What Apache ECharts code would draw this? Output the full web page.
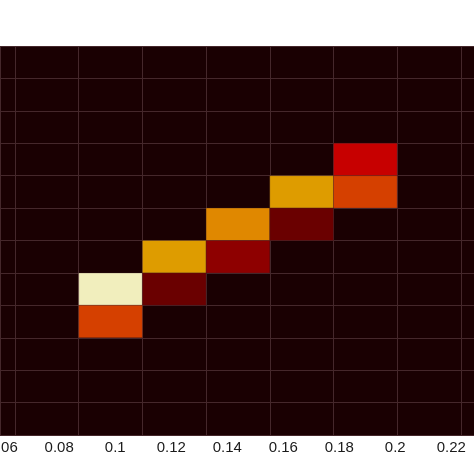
<!DOCTYPE html>
<html>
<head>
<meta charset="utf-8">
<script src="https://cdn.jsdelivr.net/npm/echarts@6/dist/echarts.min.js"></script>
<style>
  html, body { margin: 0; padding: 0; background: #fff; }
  #myChart { width: 474px; height: 474px; }
</style>
</head>
<body>
<div id="myChart"></div>
<script>
// rows of the heat map, listed top to bottom; columns are bin numbers 0..8
var rowNames = ["r0", "r1", "r2", "r3", "r4", "r5", "r6", "r7", "r8", "r9", "r10", "r11"];
var cellValues = [
  [0, 0, 0, 0, 0, 0, 0, 0, 0],
  [0, 0, 0, 0, 0, 0, 0, 0, 0],
  [0, 0, 0, 0, 0, 0, 0, 0, 0],
  [0, 0, 0, 0, 0, 0, 3, 0, 0],
  [0, 0, 0, 0, 0, 6, 4, 0, 0],
  [0, 0, 0, 0, 5, 1, 0, 0, 0],
  [0, 0, 0, 6, 2, 0, 0, 0, 0],
  [0, 0, 7, 1, 0, 0, 0, 0, 0],
  [0, 0, 4, 0, 0, 0, 0, 0, 0],
  [0, 0, 0, 0, 0, 0, 0, 0, 0],
  [0, 0, 0, 0, 0, 0, 0, 0, 0],
  [0, 0, 0, 0, 0, 0, 0, 0, 0]
];
// visible part of the bin axis and of the labelled x axis
var binMin = 0.7645;
var binMax = 8.2057;
var xMin = 0.058863;
var xMax = 0.228107;
var xStep = 0.02;

var heatColors = ["#1A0002", "#6A0000", "#8E0000", "#C70000", "#D54000", "#E08800", "#DE9C00", "#F1EEBD"];

var cellData = [];
cellValues.forEach(function (row, r) {
  row.forEach(function (v, c) {
    if (v > 0) {
      cellData.push([c, rowNames[r], v]);
    }
  });
});

function renderCell(params, api) {
  var p = api.coord([api.value(0), api.value(1)]);
  var size = api.size([1, 1]);
  return {
    type: "rect",
    shape: { x: p[0], y: p[1] - size[1] / 2, width: size[0], height: size[1] },
    style: { fill: api.visual("color"), stroke: "rgba(67,38,42,0.6)", lineWidth: 0.5 }
  };
}

var myChart = echarts.init(document.getElementById("myChart"));
myChart.setOption({
  animation: false,
  grid: {
    left: 0, right: 0, top: 46, bottom: 39,
    outerBoundsMode: "none",
    containLabel: false,
    show: true, backgroundColor: "#1A0002", borderWidth: 0
  },
  xAxis: [
    {
      type: "value",
      min: binMin,
      max: binMax,
      minInterval: 1,
      maxInterval: 1,
      position: "bottom",
      axisLine: { show: false },
      axisTick: { show: false },
      axisLabel: { show: false },
      splitLine: { show: true, lineStyle: { color: "#45272b", width: 1 } }
    },
    {
      type: "value",
      min: xMin,
      max: xMax,
      minInterval: xStep,
      maxInterval: xStep,
      position: "bottom",
      axisLine: { show: false },
      axisTick: { show: false },
      splitLine: { show: false },
      axisLabel: {
        margin: 5,
        fontSize: 15,
        color: "#1a1a1a",
        showMinLabel: false,
        showMaxLabel: false,
        fontFamily: "Liberation Sans, Arial, sans-serif",
        formatter: function (v) { return String(+v.toFixed(2)); }
      }
    }
  ],
  yAxis: {
    type: "category",
    data: rowNames.slice().reverse(),
    axisLine: { show: false },
    axisTick: { show: false },
    axisLabel: { show: false },
    splitLine: { show: true, interval: 0, lineStyle: { color: "#45272b", width: 1 } }
  },
  visualMap: {
    show: false,
    min: 0,
    max: heatColors.length - 1,
    dimension: 2,
    seriesIndex: 0,
    inRange: { color: heatColors }
  },
  series: [
    {
      type: "custom",
      xAxisIndex: 0,
      renderItem: renderCell,
      encode: { x: 0, y: 1 },
      data: cellData
    },
    {
      type: "scatter",
      xAxisIndex: 1,
      data: []
    }
  ]
});
</script>
</body>
</html>
